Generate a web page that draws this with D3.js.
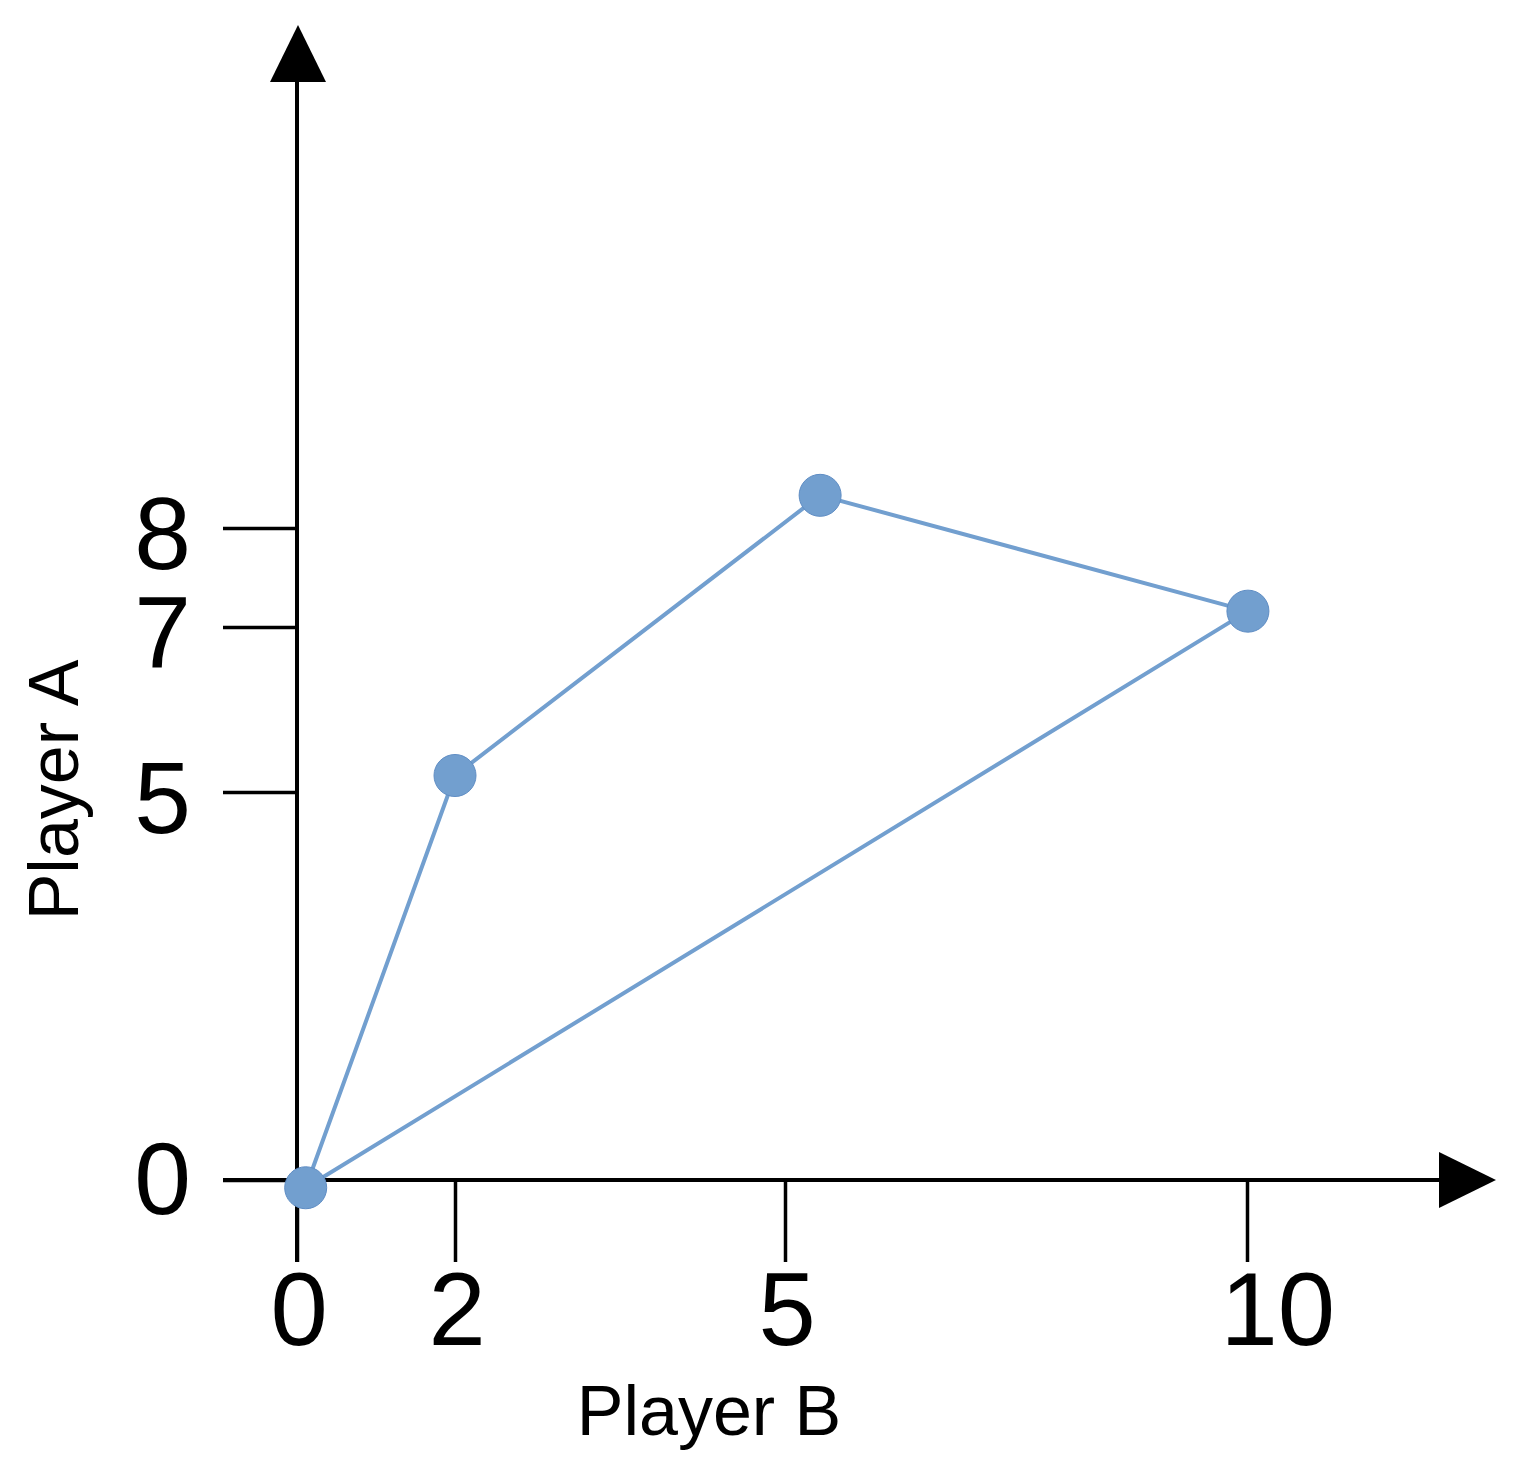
<!DOCTYPE html>
<html><head><meta charset="utf-8">
<script src="https://cdn.jsdelivr.net/npm/d3@7"></script>
<style>body{margin:0;background:#fff;} svg{display:block;}</style>
</head><body>
<svg id="chart" width="1536" height="1478"></svg>
<script>
// ---- data ----
const xTickValues = [0, 2, 5, 10];
const yTickValues = [0, 5, 7, 8];
const payoffB = [0.11, 2, 5.38, 10.01];     // horizontal (Player B)
const payoffA = [-0.1, 5.2, 8.33, 7.16];    // vertical (Player A)
const xTitle = "Player B";
const yTitle = "Player A";

// ---- layout ----
const svg = d3.select("#chart");
const FONT = "'Liberation Sans', Arial, sans-serif";
const BLUE = "#729fcf";
const x = d3.scaleLinear().domain(xTickValues).range([297, 455, 785, 1247]);
const y = d3.scaleLinear().domain(yTickValues).range([1180, 792, 627, 528]);

const ox = x(0), oy = y(0);
const arrowLen = 57, arrowHalf = 28;
const xEnd = 1496, yEnd = 25;

// axis lines
svg.append("line").attr("x1", ox - 74).attr("x2", xEnd - arrowLen + 2)
  .attr("y1", oy).attr("y2", oy).attr("stroke", "#000").attr("stroke-width", 4);
svg.append("line").attr("x1", ox).attr("x2", ox)
  .attr("y1", oy + 82).attr("y2", yEnd + arrowLen - 2).attr("stroke", "#000").attr("stroke-width", 4);
// arrows
svg.append("path")
  .attr("d", `M${xEnd},${oy} L${xEnd - arrowLen},${oy - arrowHalf} L${xEnd - arrowLen},${oy + arrowHalf} Z`)
  .attr("fill", "#000");
svg.append("path")
  .attr("d", `M${ox + 1},${yEnd} L${ox + 1 - arrowHalf},${yEnd + arrowLen} L${ox + 1 + arrowHalf},${yEnd + arrowLen} Z`)
  .attr("fill", "#000");

// x axis ticks
const gx = svg.append("g").attr("transform", `translate(0,${oy})`)
  .call(d3.axisBottom(x).tickValues(xTickValues).tickSizeInner(82).tickSizeOuter(0).tickFormat(d3.format("d")));
gx.attr("font-family", FONT).attr("font-size", 103);
gx.select(".domain").remove();
gx.selectAll(".tick line").attr("stroke", "#000").attr("stroke-width", 3.5);
gx.selectAll(".tick text").attr("fill", "#000").attr("y", 165).attr("dy", 0)
  .attr("text-anchor", "start").attr("x", -27);

// y axis ticks
const gy = svg.append("g").attr("transform", `translate(${ox},0)`)
  .call(d3.axisLeft(y).tickValues(yTickValues).tickSizeInner(74).tickSizeOuter(0).tickFormat(d3.format("d")));
gy.attr("font-family", FONT).attr("font-size", 102);
gy.select(".domain").remove();
gy.selectAll(".tick line").attr("stroke", "#000").attr("stroke-width", 3.5);
gy.selectAll(".tick text").attr("fill", "#000").attr("x", -106)
  .attr("dy", d => d === 0 ? 33 : 40)
  .attr("text-anchor", "end");

// polygon of payoffs
const pts = payoffB.map((b, i) => [x(b), y(payoffA[i])]);
svg.append("path")
  .attr("d", d3.line().curve(d3.curveLinearClosed)(pts))
  .attr("fill", "none").attr("stroke", BLUE).attr("stroke-width", 4).attr("stroke-linejoin", "round");

svg.selectAll("circle.pt").data(pts).join("circle").attr("class", "pt")
  .attr("cx", d => d[0]).attr("cy", d => d[1]).attr("r", 21)
  .attr("fill", BLUE).attr("stroke", "#5f8dc4").attr("stroke-width", 1);

// titles
svg.append("text").attr("x", 709).attr("y", 1435).attr("text-anchor", "middle")
  .attr("font-family", FONT).attr("font-size", 70).attr("fill", "#000").text(xTitle);
svg.append("text").attr("transform", "translate(78,790) rotate(-90)").attr("text-anchor", "middle")
  .attr("font-family", FONT).attr("font-size", 70).attr("fill", "#000").text(yTitle);
</script>
</body></html>
